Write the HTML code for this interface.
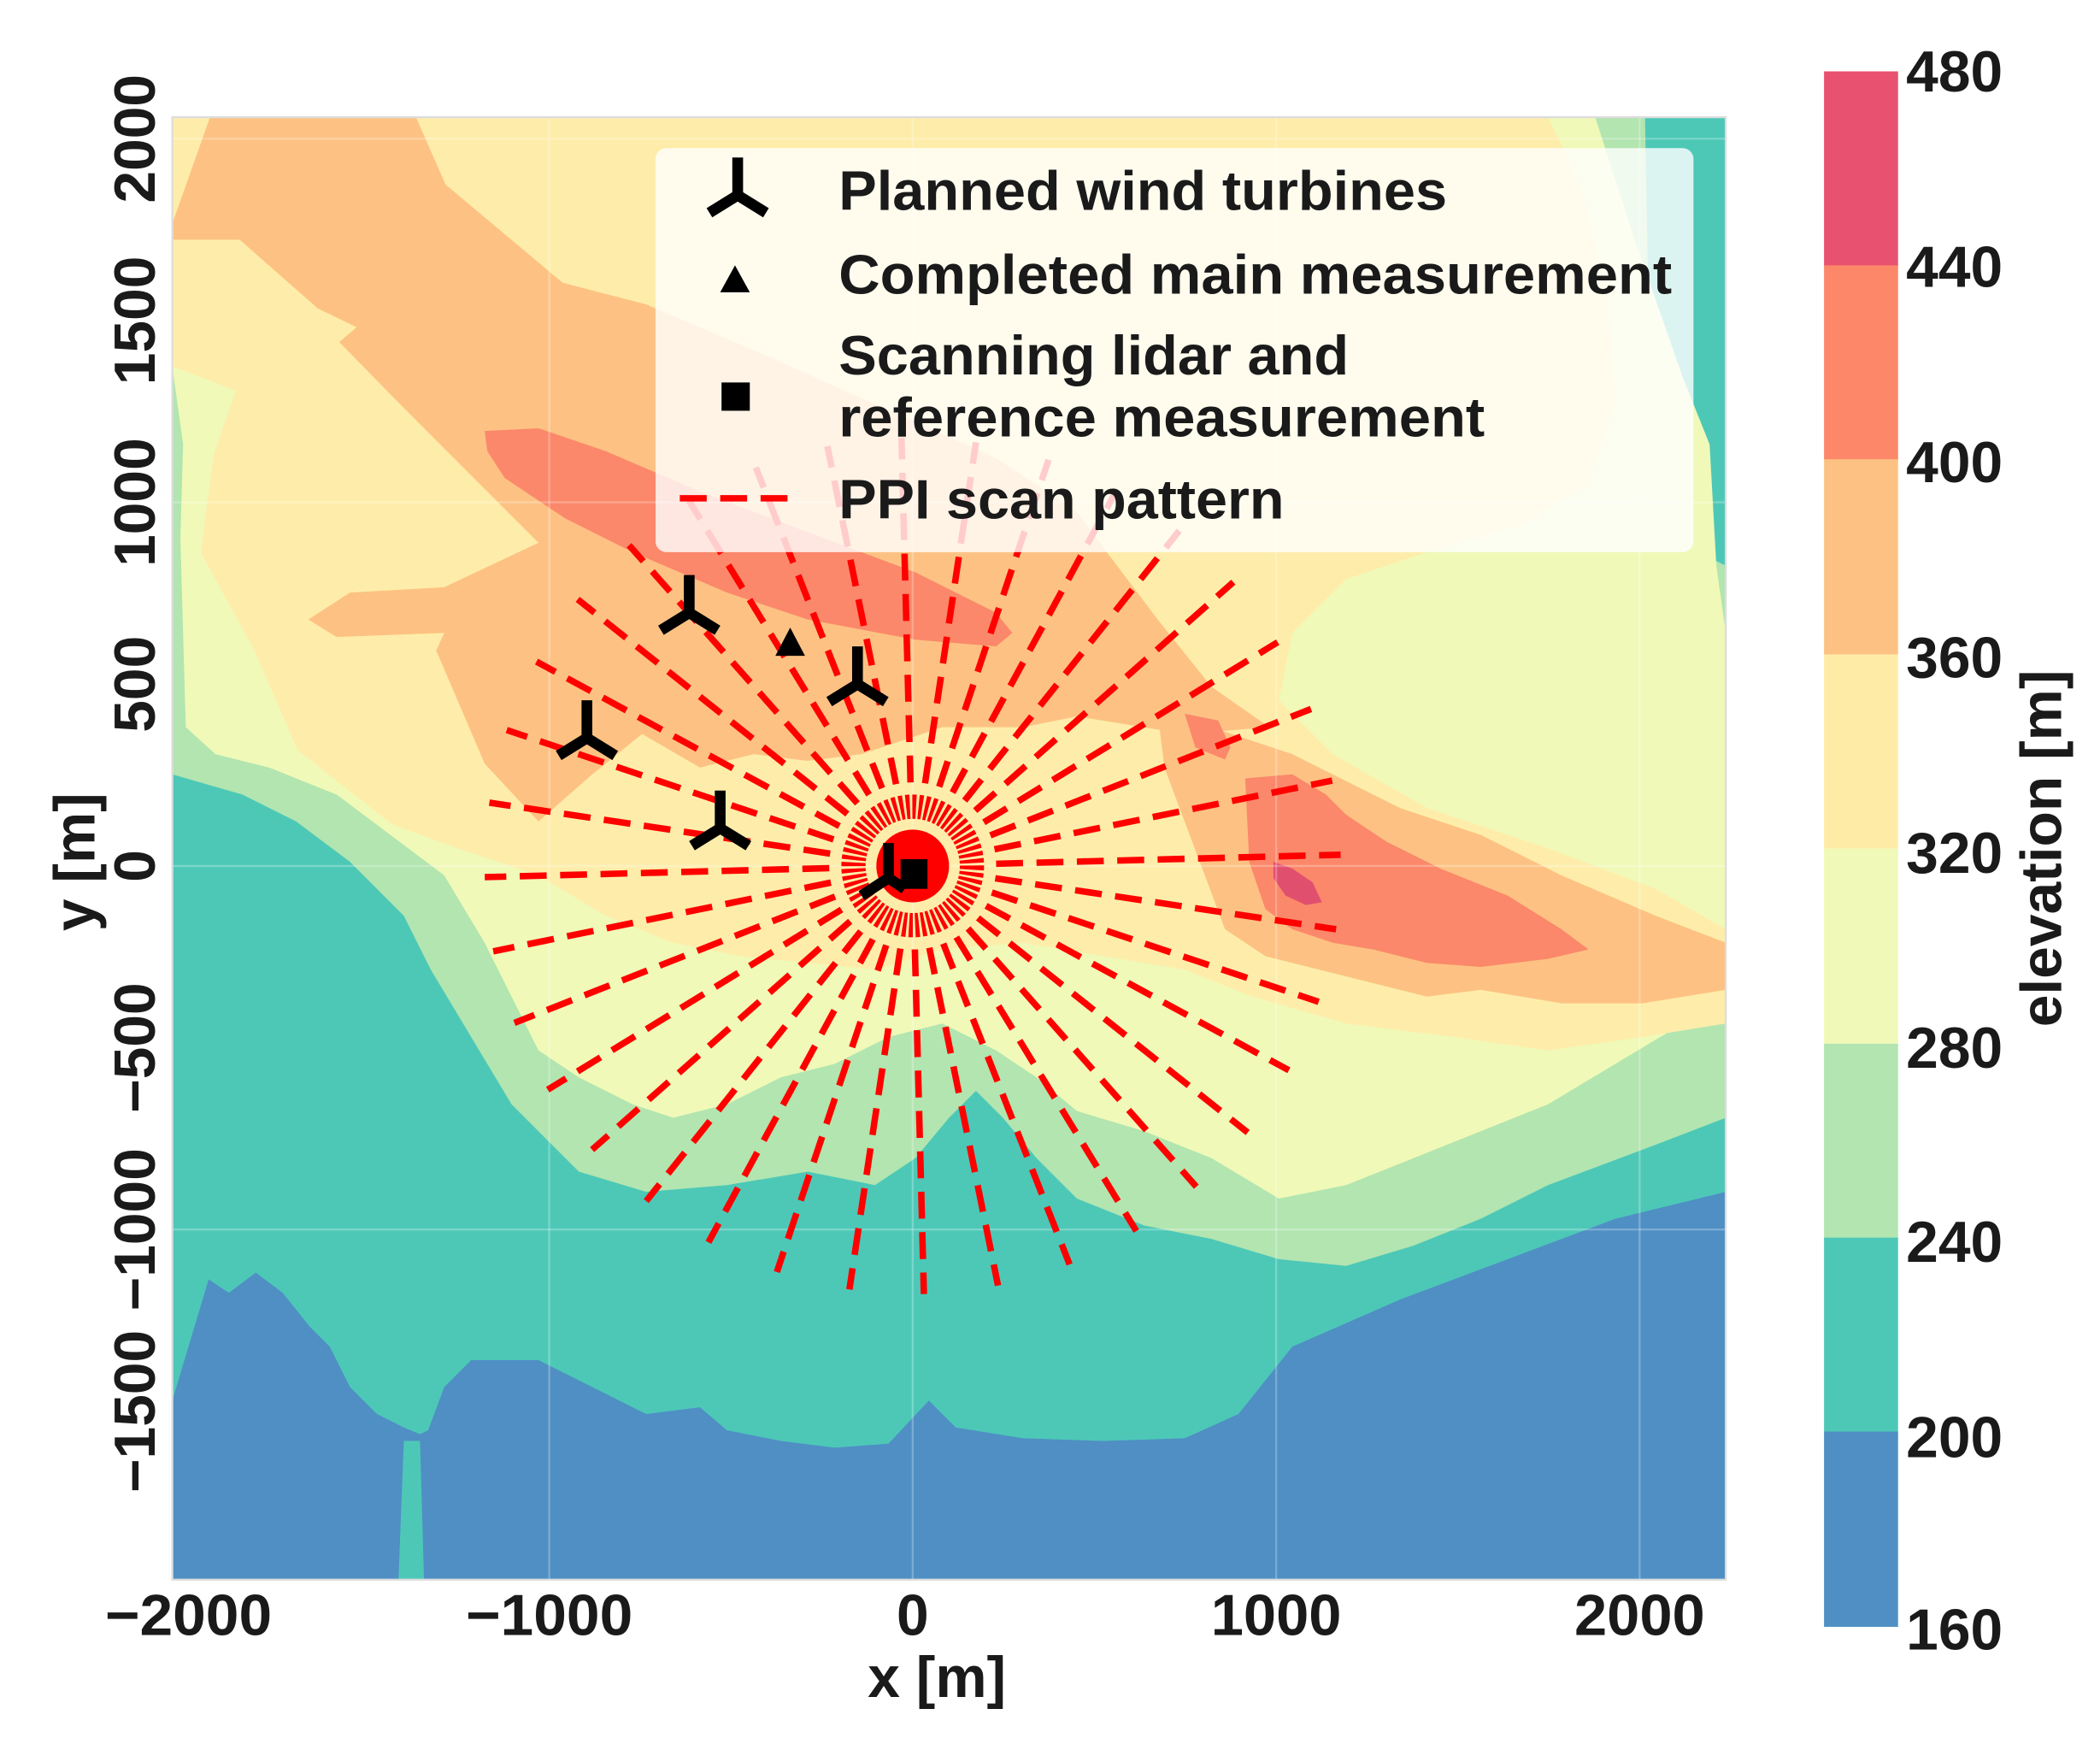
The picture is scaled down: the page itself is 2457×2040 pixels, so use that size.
<!DOCTYPE html>
<html><head><meta charset="utf-8"><style>
html,body{margin:0;padding:0;background:#fff;}
svg{display:block;}
text{font-family:"Liberation Sans",Arial,sans-serif;font-weight:bold;fill:#1a1a1a;}
</style></head><body>
<svg width="2457" height="2040" viewBox="0 0 1560 1295" preserveAspectRatio="none" xmlns="http://www.w3.org/2000/svg">
<defs><clipPath id="pc"><rect x="128" y="87" width="1154" height="1086"/></clipPath></defs>
<g clip-path="url(#pc)">
<rect x="128" y="87" width="1154" height="1086" fill="#4dc8b7"/>
<!-- light green 240-280 -->
<polygon fill="#b2e5b0" points="128,87 1222,87 1226,300 1240,400 1282,420 1282,830 1230,850 1150,880 1100,905 1050,925 1000,940 950,935 900,920 850,910 800,890 770,860 745,830 725,810 705,830 680,860 650,880 600,870 540,880 480,885 430,870 400,840 380,820 350,770 320,720 300,680 260,640 220,610 180,590 128,575"/>
<!-- pale 280-320 -->
<polygon fill="#f0f9b8" points="128,87 1185,87 1215,180 1250,280 1270,330 1275,420 1282,470 1282,720 1250,760 1200,790 1150,820 1100,840 1050,860 1000,880 950,890 900,860 850,840 800,825 770,800 740,780 700,760 660,770 620,790 580,800 540,820 500,830 470,820 430,800 400,780 380,740 360,700 330,650 290,620 250,590 200,570 160,560 138,540 134,400 136,330 128,272"/>
<!-- yellow 320-360 -->
<polygon fill="#feedaa" points="128,87 1150,87 1175,140 1195,220 1200,300 1180,360 1130,390 1060,410 1000,430 960,470 950,520 990,560 1060,600 1150,630 1230,660 1282,690 1282,760 1220,770 1150,780 1080,770 1000,760 930,740 880,720 820,710 760,700 700,705 650,720 600,715 550,710 500,700 450,680 400,650 340,630 291,612 221,557 189,483 149,410 159,337 175,290 128,272"/>
<!-- orange 360-400 -->
<polygon fill="#fdc283" points="128,166 156,87 309,87 331,137 418,210 480,226 560,260 650,300 740,340 800,380 823,411 860,460 900,510 943,540 880,545 800,532 760,540 700,540 640,560 600,565 560,560 520,570 477,545 440,575 400,610 360,567 324,483 330,470 250,473 229,460 260,440 330,436 400,403 298,301 252,254 265,243 236,229 178,178 128,178"/>
<polygon fill="#fdc283" points="860,530 900,540 960,560 1000,580 1040,600 1100,620 1160,650 1230,680 1282,700 1282,735 1220,745 1160,745 1100,735 1060,740 1020,730 980,720 940,710 910,690 895,650 880,610 865,570"/>
<!-- salmon 400-440 -->
<polygon fill="#fb886a" points="360,320 400,318 450,335 520,365 600,395 680,425 740,455 752,470 740,480 680,475 600,460 540,440 470,410 420,385 375,355 362,335"/>
<polygon fill="#fb886a" points="925,578 960,575 985,590 1000,605 1030,625 1070,645 1120,665 1160,690 1180,705 1150,712 1100,718 1060,715 1020,705 990,700 960,690 940,675 928,640"/>
<polygon fill="#fb886a" points="880,530 905,535 914,555 910,564 888,555"/>
<polygon fill="#e0506e" points="946,640 960,645 975,655 982,670 970,672 955,665 946,652"/>
<!-- blue -->
<polygon fill="#4f8fc4" points="128,1040 140,1000 155,950 170,960 190,945 210,960 230,985 245,1000 260,1030 280,1050 300,1060 312,1065 318,1062 330,1030 350,1010 400,1010 440,1030 480,1050 520,1045 540,1062 580,1070 620,1075 660,1072 690,1040 710,1060 760,1068 820,1070 880,1068 920,1050 960,1000 1040,965 1120,935 1200,905 1282,885 1282,1173 315,1173 312,1070 300,1070 296,1173 128,1173"/>
<!-- faint grid -->
<g stroke="#ffffff" stroke-opacity="0.25" stroke-width="1.5">
<line x1="408" y1="87" x2="408" y2="1173"/><line x1="678" y1="87" x2="678" y2="1173"/><line x1="948" y1="87" x2="948" y2="1173"/><line x1="1218" y1="87" x2="1218" y2="1173"/>
<line x1="128" y1="103" x2="1282" y2="103"/><line x1="128" y1="373" x2="1282" y2="373"/><line x1="128" y1="643" x2="1282" y2="643"/><line x1="128" y1="913" x2="1282" y2="913"/>
</g>
<!-- scan pattern -->
<g transform="translate(678,643)" stroke="#ff0000" stroke-width="4.8" fill="none">
<circle r="27" fill="#ff0000" stroke="none"/>
<circle r="44" stroke-width="18" stroke-dasharray="2.8 1.8"/>
<g stroke-dasharray="20 10">
<line x1="62" y1="0" x2="318" y2="0" transform="rotate(-1.5)"/>
<line x1="62" y1="0" x2="318" y2="0" transform="rotate(8.5)"/>
<line x1="62" y1="0" x2="318" y2="0" transform="rotate(18.5)"/>
<line x1="62" y1="0" x2="318" y2="0" transform="rotate(28.5)"/>
<line x1="62" y1="0" x2="318" y2="0" transform="rotate(38.5)"/>
<line x1="62" y1="0" x2="318" y2="0" transform="rotate(48.5)"/>
<line x1="62" y1="0" x2="318" y2="0" transform="rotate(58.5)"/>
<line x1="62" y1="0" x2="318" y2="0" transform="rotate(68.5)"/>
<line x1="62" y1="0" x2="318" y2="0" transform="rotate(78.5)"/>
<line x1="62" y1="0" x2="318" y2="0" transform="rotate(88.5)"/>
<line x1="62" y1="0" x2="318" y2="0" transform="rotate(98.5)"/>
<line x1="62" y1="0" x2="318" y2="0" transform="rotate(108.5)"/>
<line x1="62" y1="0" x2="318" y2="0" transform="rotate(118.5)"/>
<line x1="62" y1="0" x2="318" y2="0" transform="rotate(128.5)"/>
<line x1="62" y1="0" x2="318" y2="0" transform="rotate(138.5)"/>
<line x1="62" y1="0" x2="318" y2="0" transform="rotate(148.5)"/>
<line x1="62" y1="0" x2="318" y2="0" transform="rotate(158.5)"/>
<line x1="62" y1="0" x2="318" y2="0" transform="rotate(168.5)"/>
<line x1="62" y1="0" x2="318" y2="0" transform="rotate(178.5)"/>
<line x1="62" y1="0" x2="318" y2="0" transform="rotate(188.5)"/>
<line x1="62" y1="0" x2="318" y2="0" transform="rotate(198.5)"/>
<line x1="62" y1="0" x2="318" y2="0" transform="rotate(208.5)"/>
<line x1="62" y1="0" x2="318" y2="0" transform="rotate(218.5)"/>
<line x1="62" y1="0" x2="318" y2="0" transform="rotate(228.5)"/>
<line x1="62" y1="0" x2="318" y2="0" transform="rotate(238.5)"/>
<line x1="62" y1="0" x2="318" y2="0" transform="rotate(248.5)"/>
<line x1="62" y1="0" x2="318" y2="0" transform="rotate(258.5)"/>
<line x1="62" y1="0" x2="318" y2="0" transform="rotate(268.5)"/>
<line x1="62" y1="0" x2="318" y2="0" transform="rotate(278.5)"/>
<line x1="62" y1="0" x2="318" y2="0" transform="rotate(288.5)"/>
<line x1="62" y1="0" x2="318" y2="0" transform="rotate(298.5)"/>
<line x1="62" y1="0" x2="318" y2="0" transform="rotate(308.5)"/>
<line x1="62" y1="0" x2="318" y2="0" transform="rotate(318.5)"/>
<line x1="62" y1="0" x2="318" y2="0" transform="rotate(328.5)"/>
<line x1="62" y1="0" x2="318" y2="0" transform="rotate(338.5)"/>
<line x1="62" y1="0" x2="318" y2="0" transform="rotate(348.5)"/>
</g>
</g>
<!-- turbines -->
<g stroke="#000" stroke-width="8" fill="none">
<g transform="translate(512,455)"><line x1="0" y1="0" x2="0" y2="-28"/><line x1="0" y1="0" x2="-21" y2="13"/><line x1="0" y1="0" x2="21" y2="13"/></g>
<g transform="translate(637,508)"><line x1="0" y1="0" x2="0" y2="-28"/><line x1="0" y1="0" x2="-21" y2="13"/><line x1="0" y1="0" x2="21" y2="13"/></g>
<g transform="translate(436,548)"><line x1="0" y1="0" x2="0" y2="-28"/><line x1="0" y1="0" x2="-21" y2="13"/><line x1="0" y1="0" x2="21" y2="13"/></g>
<g transform="translate(535,615)"><line x1="0" y1="0" x2="0" y2="-28"/><line x1="0" y1="0" x2="-21" y2="13"/><line x1="0" y1="0" x2="21" y2="13"/></g>
<g transform="translate(660,652)"><line x1="0" y1="0" x2="0" y2="-26"/><line x1="0" y1="0" x2="-20" y2="13"/><line x1="0" y1="0" x2="12" y2="8"/></g>
</g>
<polygon points="587,466 598,487 576,487" fill="#000"/>
<rect x="669" y="638" width="20" height="22" fill="#000"/>
<!-- legend -->
<rect x="487" y="110" width="771" height="300" rx="8" fill="#ffffff" fill-opacity="0.8"/>
</g>
<rect x="128" y="87" width="1154" height="1086" fill="none" stroke="#ddd" stroke-width="1.5"/>
<g stroke="#000" stroke-width="8" fill="none" transform="translate(548,145)"><line x1="0" y1="0" x2="0" y2="-28"/><line x1="0" y1="0" x2="-21" y2="13"/><line x1="0" y1="0" x2="21" y2="13"/></g>
<polygon points="546,197 557,217 535,217" fill="#000"/>
<rect x="536" y="284" width="21" height="21" fill="#000"/>
<line x1="505" y1="370" x2="590" y2="370" stroke="#ff0000" stroke-width="4.8" stroke-dasharray="20 10"/>
<g font-size="41">
<text x="623" y="156" textLength="452" lengthAdjust="spacingAndGlyphs">Planned wind turbines</text>
<text x="623" y="218" textLength="619" lengthAdjust="spacingAndGlyphs">Completed main measurement</text>
<text x="623" y="278" textLength="379" lengthAdjust="spacingAndGlyphs">Scanning lidar and</text>
<text x="623" y="324" textLength="480" lengthAdjust="spacingAndGlyphs">reference measurement</text>
<text x="623" y="385" textLength="331" lengthAdjust="spacingAndGlyphs">PPI scan pattern</text>
</g>
<!-- x ticks -->
<g font-size="43" text-anchor="middle">
<text x="140" y="1214" textLength="124" lengthAdjust="spacingAndGlyphs">−2000</text>
<text x="408" y="1214" textLength="124" lengthAdjust="spacingAndGlyphs">−1000</text>
<text x="678" y="1214">0</text>
<text x="948" y="1214" textLength="97" lengthAdjust="spacingAndGlyphs">1000</text>
<text x="1218" y="1214" textLength="97" lengthAdjust="spacingAndGlyphs">2000</text>
<text x="696" y="1260">x [m]</text>
</g>
<!-- y ticks -->
<g font-size="43" text-anchor="middle">
<text transform="translate(115,103) rotate(-90)">2000</text>
<text transform="translate(115,238) rotate(-90)">1500</text>
<text transform="translate(115,373) rotate(-90)">1000</text>
<text transform="translate(115,508) rotate(-90)">500</text>
<text transform="translate(115,643) rotate(-90)">0</text>
<text transform="translate(115,778) rotate(-90)">−500</text>
<text transform="translate(115,913) rotate(-90)">−1000</text>
<text transform="translate(115,1048) rotate(-90)">−1500</text>
<text transform="translate(70,640) rotate(-90)">y [m]</text>
</g>
<!-- colorbar -->
<g>
<rect x="1355" y="53" width="55" height="145" fill="#e8516f"/>
<rect x="1355" y="197" width="55" height="145" fill="#fc8769"/>
<rect x="1355" y="341" width="55" height="145" fill="#fdc283"/>
<rect x="1355" y="486" width="55" height="145" fill="#feeca6"/>
<rect x="1355" y="630" width="55" height="145" fill="#f0f9b8"/>
<rect x="1355" y="775" width="55" height="145" fill="#b2e5b0"/>
<rect x="1355" y="919" width="55" height="145" fill="#4dc8b7"/>
<rect x="1355" y="1063" width="55" height="145" fill="#4f8fc4"/>
</g>
<g font-size="43">
<text x="1416" y="68">480</text>
<text x="1416" y="213">440</text>
<text x="1416" y="358">400</text>
<text x="1416" y="503">360</text>
<text x="1416" y="648">320</text>
<text x="1416" y="793">280</text>
<text x="1416" y="937">240</text>
<text x="1416" y="1082">200</text>
<text x="1416" y="1225">160</text>
<text transform="translate(1531,630) rotate(-90)" text-anchor="middle">elevation [m]</text>
</g>
</svg>
</body></html>
